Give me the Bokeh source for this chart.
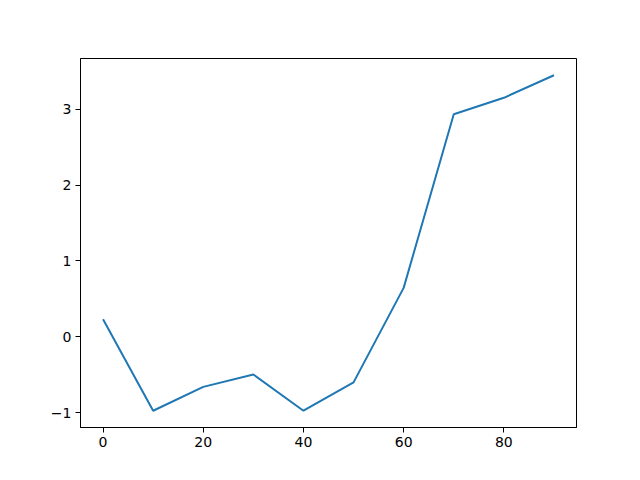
from bokeh.plotting import figure
from bokeh.models import FixedTicker, Range1d
from bokeh.embed import file_html
from bokeh.resources import INLINE

x_vals = [0, 10, 20, 30, 40, 50, 60, 70, 80, 90]
y_vals = [0.232, -0.974, -0.66, -0.496, -0.974, -0.60, 0.645, 2.934, 3.15, 3.447]
x_ticks = [0, 20, 40, 60, 80]
y_ticks = [-1, 0, 1, 2, 3]
y_tick_labels = ["\u22121", "0", "1", "2", "3"]

xmin, xmax = min(x_vals), max(x_vals)
ymin, ymax = min(y_vals), max(y_vals)
xm = 0.05 * (xmax - xmin)
ym = 0.05 * (ymax - ymin)

p = figure(width=624, height=464, output_backend="svg", toolbar_location=None,
           x_range=Range1d(xmin - xm, xmax + xm), y_range=Range1d(ymin - ym, ymax + ym),
           min_border_left=80, min_border_right=48, min_border_top=58, min_border_bottom=37)

p.line(x_vals, y_vals, line_color="#1f77b4", line_width=2)

p.xgrid.visible = False
p.ygrid.visible = False
p.outline_line_color = "black"
p.outline_line_width = 1
p.background_fill_color = "white"
p.border_fill_color = "white"

p.xaxis.ticker = FixedTicker(ticks=x_ticks)
p.yaxis.ticker = FixedTicker(ticks=y_ticks)
p.yaxis.major_label_overrides = {t: l for t, l in zip(y_ticks, y_tick_labels)}

for ax in (p.xaxis, p.yaxis):
    ax.major_label_text_font = "DejaVu Sans"
    ax.major_label_text_font_size = "14px"
    ax.major_label_text_color = "black"
    ax.major_tick_in = 0
    ax.major_tick_out = 5
    ax.minor_tick_line_color = None
    ax.major_label_standoff = 4
    ax.axis_line_color = "black"
    ax.major_tick_line_color = "black"

open("out.html", "w").write(file_html(p, INLINE))
